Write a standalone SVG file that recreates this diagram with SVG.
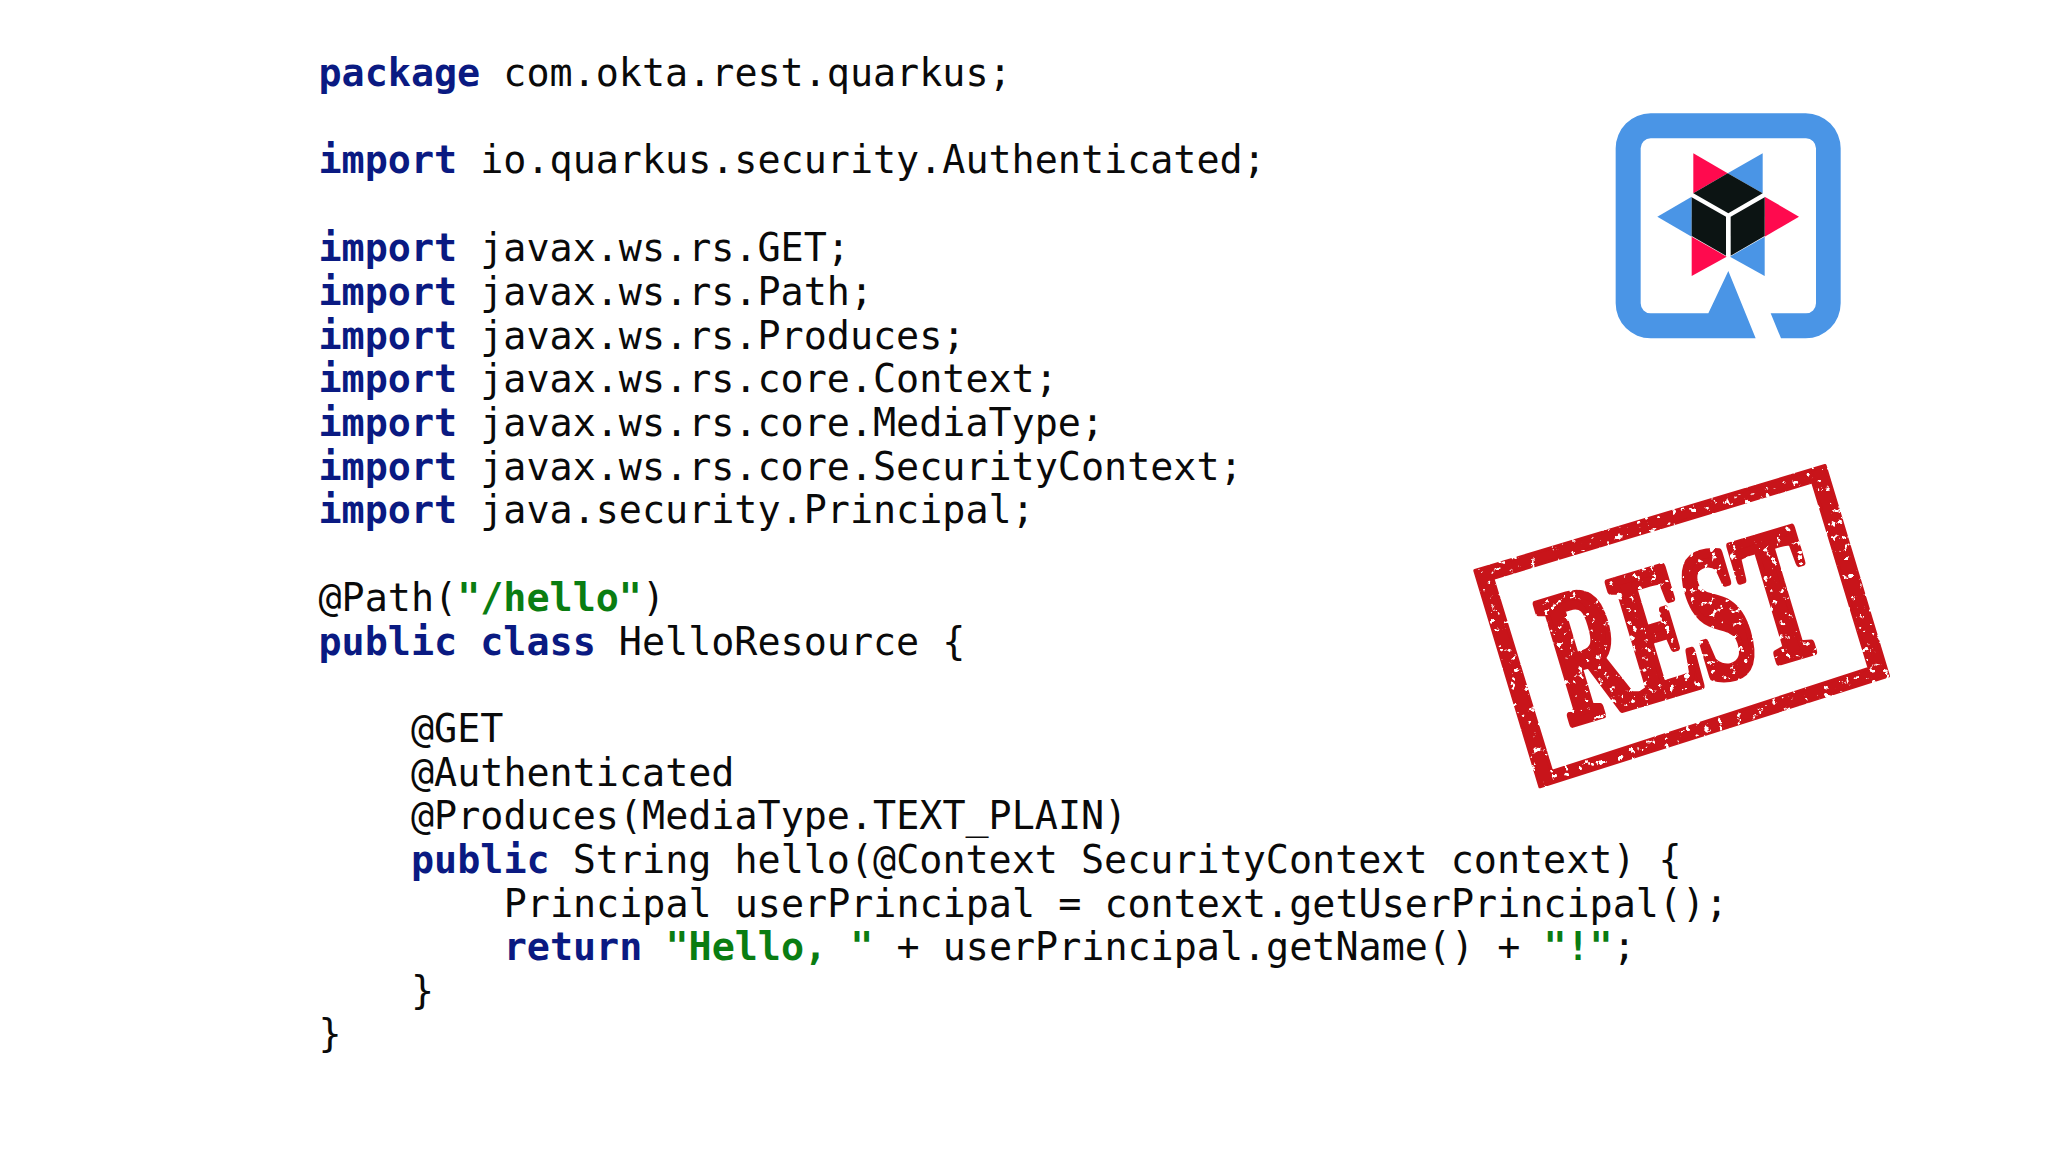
<svg xmlns="http://www.w3.org/2000/svg" width="2048" height="1152" viewBox="0 0 2048 1152">
<style>
.code{font-family:"DejaVu Sans Mono",monospace;font-size:38.38px;fill:#0a0a0a;white-space:pre}
.k{font-weight:700;fill:#0a1a82}
.s{font-weight:700;fill:#0a7d12}
.b{fill:#4a95e6}.r{fill:#ff0a4e}.d{fill:#0c1413}
</style>
<defs>
<filter id="worn" x="-10%" y="-10%" width="120%" height="120%" color-interpolation-filters="sRGB">
<feTurbulence type="fractalNoise" baseFrequency="0.05" numOctaves="4" seed="7" result="n"/>
<feColorMatrix in="n" type="matrix" values="0 0 0 0 0 0 0 0 0 0 0 0 0 0 0 0 0 0 14 -9.2" result="m"/>
<feComposite in="SourceGraphic" in2="m" operator="out"/>
</filter>
</defs>
<rect width="2048" height="1152" fill="#fff"/>
<g id="code" class="code">
<text x="318.5" y="85.5"><tspan class="k">package</tspan> com.okta.rest.quarkus;</text>
<text x="318.5" y="173"><tspan class="k">import</tspan> io.quarkus.security.Authenticated;</text>
<text x="318.5" y="261"><tspan class="k">import</tspan> javax.ws.rs.GET;</text>
<text x="318.5" y="305"><tspan class="k">import</tspan> javax.ws.rs.Path;</text>
<text x="318.5" y="348.5"><tspan class="k">import</tspan> javax.ws.rs.Produces;</text>
<text x="318.5" y="392"><tspan class="k">import</tspan> javax.ws.rs.core.Context;</text>
<text x="318.5" y="436"><tspan class="k">import</tspan> javax.ws.rs.core.MediaType;</text>
<text x="318.5" y="479.5"><tspan class="k">import</tspan> javax.ws.rs.core.SecurityContext;</text>
<text x="318.5" y="523"><tspan class="k">import</tspan> java.security.Principal;</text>
<text x="318.5" y="610.5">@Path(<tspan class="s">"/hello"</tspan>)</text>
<text x="318.5" y="654.5"><tspan class="k">public class</tspan> HelloResource {</text>
<text x="411" y="742">@GET</text>
<text x="411" y="785.5">@Authenticated</text>
<text x="411" y="829">@Produces(MediaType.TEXT_PLAIN)</text>
<text x="411" y="872.5"><tspan class="k">public</tspan> String hello(@Context SecurityContext context) {</text>
<text x="503.7" y="916.5">Principal userPrincipal = context.getUserPrincipal();</text>
<text x="503.7" y="960"><tspan class="k">return</tspan> <tspan class="s">"Hello, "</tspan> + userPrincipal.getName() + <tspan class="s">"!"</tspan>;</text>
<text x="411" y="1003.5">}</text>
<text x="318.5" y="1047">}</text>
</g>
<g id="quarkus-logo" transform="translate(1580 90) scale(.33333)">
<path class="b" d="M603 745H677a105 105 0 0 0 105-105V175a105 105 0 0 0-105-105H212a105 105 0 0 0-105 105V640a105 105 0 0 0 105 105H527L445 543 385 670H212a30 30 0 0 1-30-30V175a30 30 0 0 1 30-30H678a30 30 0 0 1 30 30V640a30 30 0 0 1-30 30H572Z"/>
<path class="r" d="M340 190 443 250 340 310Z"/>
<path class="b" d="M548 190 443 250 548 310Z"/>
<path class="b" d="M232 380 335 320V440Z"/>
<path class="r" d="M657 380 554 320V440Z"/>
<path class="r" d="M335 558V440L440 500Z"/>
<path class="b" d="M554 558V440L450 500Z"/>
<path class="d" d="M443 250 548 310 445 370 340 310Z"/>
<path class="d" d="M335 322 438 380V497L335 438Z"/>
<path class="d" d="M452 380 554 322V438L452 497Z"/>
</g>
<g id="rest-stamp" transform="translate(1450 440) scale(.33333)" filter="url(#worn)">
<path fill="#c8141a" stroke="#c8141a" stroke-width="10" stroke-linejoin="round" fill-rule="evenodd" d="M75 392 1125 77 1315 708 270 1040ZM128 415 1088 125 1258 685 305 995Z"/>
<text transform="translate(358 852) rotate(-16.7)" font-family="'Liberation Serif',serif" font-weight="700" font-size="565" fill="#c8141a" stroke="#c8141a" stroke-width="28" stroke-linejoin="round" textLength="815" lengthAdjust="spacingAndGlyphs">REST</text>
</g>
</svg>
